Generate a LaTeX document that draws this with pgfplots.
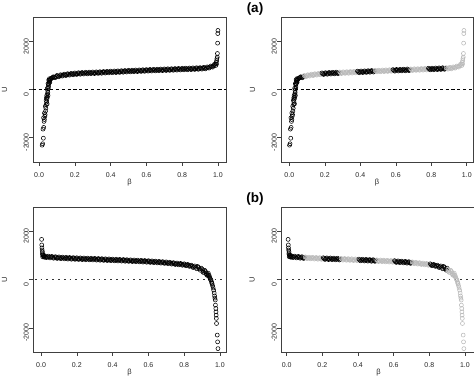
\documentclass[border=0pt]{standalone}
\usepackage{pgfplots}
\usepackage{pgfplotstable}
\usepackage{fontspec}
\setmainfont{Liberation Sans}
\pgfplotsset{compat=1.18}

\pgfplotstableread{
b U c
0.017 -2320 k
0.020 -2260 k
0.024 -2030 k
0.022 -1650 k
0.026 -1580 k
0.028 -1330 k
0.030 -1250 k
0.025 -1180 k
0.032 -1120 k
0.034 -1050 k
0.030 -980 k
0.036 -900 k
0.038 -780 k
0.035 -700 k
0.040 -620 k
0.045 -600 k
0.042 -520 k
0.039 -450 k
0.044 -400 k
0.041 -350 k
0.046 -330 k
0.050 -250 k
0.043 -250 k
0.047 -180 k
0.049 -120 k
0.048 -40 k
0.046 50 k
0.051 30 k
0.053 110 k
0.052 190 k
0.055 240 k
0.050 250 k
0.057 300 k
0.060 300 k
0.056 360 k
0.059 380 k
0.054 400 k
0.062 410 k
0.065 440 k
0.058 450 k
0.068 460 k
0.072 480 k
0.076 500 k
0.08 530 k
0.085 510 k
0.09 490 k
0.095 537 k
0.10 585 g
0.105 557 g
0.11 530 g
0.115 572 g
0.12 615 g
0.125 586 g
0.13 558 g
0.135 599 g
0.14 640 g
0.145 610 g
0.15 580 g
0.155 619 g
0.16 658 g
0.165 627 g
0.17 596 g
0.175 635 g
0.18 674 g
0.185 643 g
0.19 612 g
0.195 651 g
0.20 690 k
0.205 657 k
0.21 625 k
0.215 662 k
0.22 700 k
0.225 667 k
0.23 635 k
0.235 672 k
0.24 710 k
0.245 677 k
0.25 645 k
0.255 681 k
0.26 718 k
0.265 684 k
0.27 651 k
0.275 687 k
0.28 724 k
0.285 690 k
0.29 657 k
0.295 693 k
0.30 730 g
0.305 696 g
0.31 663 g
0.315 699 g
0.32 736 g
0.325 702 g
0.33 669 g
0.335 705 g
0.34 742 g
0.345 708 g
0.35 675 g
0.355 712 g
0.36 749 g
0.365 716 g
0.37 683 g
0.375 720 g
0.38 757 g
0.385 724 g
0.39 691 g
0.395 728 g
0.40 765 k
0.405 731 k
0.41 698 k
0.415 734 k
0.42 771 k
0.425 737 k
0.43 704 k
0.435 740 k
0.44 777 k
0.445 743 k
0.45 710 k
0.455 747 k
0.46 784 k
0.465 751 k
0.47 718 k
0.475 755 k
0.48 792 k
0.485 759 k
0.49 726 k
0.495 763 k
0.50 800 g
0.505 766 g
0.51 733 g
0.515 769 g
0.52 806 g
0.525 772 g
0.53 739 g
0.535 775 g
0.54 812 g
0.545 778 g
0.55 745 g
0.555 781 g
0.56 818 g
0.565 784 g
0.57 751 g
0.575 787 g
0.58 824 g
0.585 790 g
0.59 757 g
0.595 793 g
0.60 830 k
0.605 796 k
0.61 763 k
0.615 799 k
0.62 836 k
0.625 802 k
0.63 769 k
0.635 805 k
0.64 842 k
0.645 808 k
0.65 775 k
0.655 811 k
0.66 847 k
0.665 813 k
0.67 780 k
0.675 816 k
0.68 853 k
0.685 819 k
0.69 785 k
0.695 821 k
0.70 858 g
0.705 824 g
0.71 790 g
0.715 826 g
0.72 863 g
0.725 829 g
0.73 795 g
0.735 831 g
0.74 867 g
0.745 833 g
0.75 800 g
0.755 836 g
0.76 873 g
0.765 839 g
0.77 806 g
0.775 842 g
0.78 879 g
0.785 845 g
0.79 812 g
0.795 848 g
0.80 885 k
0.805 851 k
0.81 817 k
0.815 853 k
0.82 890 k
0.825 856 k
0.83 822 k
0.835 858 k
0.84 895 k
0.845 861 k
0.85 828 k
0.855 864 k
0.86 901 k
0.865 867 k
0.87 834 k
0.875 870 k
0.88 907 k
0.885 873 k
0.89 840 k
0.895 876 k
0.90 912 g
0.905 879 g
0.91 847 g
0.915 885 g
0.92 923 g
0.925 891 g
0.93 860 g
0.935 901 g
0.94 943 g
0.945 916 g
0.95 890 g
0.955 934 g
0.96 978 g
0.965 954 g
0.97 930 g
0.975 985 g
0.98 1045 g
0.985 1060 g
0.988 1000 g
0.990 1120 g
0.992 1060 g
0.993 1200 g
0.994 1280 g
0.996 1350 g
0.997 1500 g
0.998 1930 g
0.999 2330 g
1.000 2460 g
}\dataA

\pgfplotstableread{
b U c
0.003 1660 k
0.004 1430 k
0.005 1310 k
0.006 1220 k
0.008 1140 k
0.007 1060 k
0.010 1020 k
0.012 980 k
0.009 940 k
0.014 1000 k
0.016 950 k
0.018 920 k
0.02 985 k
0.025 945 k
0.03 905 k
0.035 936 k
0.04 968 k
0.045 930 k
0.05 892 k
0.055 924 k
0.06 956 k
0.065 918 k
0.07 880 k
0.075 912 k
0.08 945 k
0.085 907 k
0.09 870 k
0.095 902 k
0.10 935 g
0.105 898 g
0.11 861 g
0.115 894 g
0.12 927 g
0.125 890 g
0.13 853 g
0.135 886 g
0.14 919 g
0.145 882 g
0.15 845 g
0.155 878 g
0.16 912 g
0.165 875 g
0.17 839 g
0.175 872 g
0.18 906 g
0.185 869 g
0.19 833 g
0.195 866 g
0.20 900 k
0.205 864 k
0.21 828 k
0.215 861 k
0.22 895 k
0.225 859 k
0.23 823 k
0.235 856 k
0.24 890 k
0.245 854 k
0.25 818 k
0.255 851 k
0.26 885 k
0.265 849 k
0.27 813 k
0.275 846 k
0.28 880 k
0.285 844 k
0.29 808 k
0.295 841 k
0.30 875 g
0.305 838 g
0.31 802 g
0.315 835 g
0.32 869 g
0.325 832 g
0.33 796 g
0.335 829 g
0.34 863 g
0.345 826 g
0.35 790 g
0.355 823 g
0.36 857 g
0.365 820 g
0.37 784 g
0.375 817 g
0.38 851 g
0.385 814 g
0.39 778 g
0.395 811 g
0.40 845 k
0.405 808 k
0.41 772 k
0.415 805 k
0.42 839 k
0.425 802 k
0.43 766 k
0.435 799 k
0.44 833 k
0.445 796 k
0.45 760 k
0.455 793 k
0.46 827 k
0.465 790 k
0.47 754 k
0.475 787 k
0.48 821 k
0.485 784 k
0.49 748 k
0.495 781 k
0.50 815 g
0.505 778 g
0.51 742 g
0.515 775 g
0.52 808 g
0.525 771 g
0.53 735 g
0.535 768 g
0.54 801 g
0.545 764 g
0.55 728 g
0.555 761 g
0.56 794 g
0.565 757 g
0.57 721 g
0.575 754 g
0.58 787 g
0.585 750 g
0.59 714 g
0.595 747 g
0.60 780 k
0.605 742 k
0.61 705 k
0.615 737 k
0.62 770 k
0.625 732 k
0.63 695 k
0.635 727 k
0.64 760 k
0.645 722 k
0.65 685 k
0.655 717 k
0.66 750 k
0.665 712 k
0.67 675 k
0.675 707 k
0.68 740 k
0.685 702 k
0.69 665 k
0.695 697 k
0.70 730 g
0.705 691 g
0.71 652 g
0.715 683 g
0.72 714 g
0.725 675 g
0.73 636 g
0.735 667 g
0.74 698 g
0.745 659 g
0.75 620 g
0.755 651 g
0.76 682 g
0.765 643 g
0.77 604 g
0.775 635 g
0.78 666 g
0.785 627 g
0.79 588 g
0.795 619 g
0.80 650 k
0.805 609 k
0.81 568 k
0.815 596 k
0.82 625 k
0.825 582 k
0.83 540 k
0.835 566 k
0.84 593 k
0.845 549 k
0.85 495 k
0.855 528 k
0.86 561 k
0.865 503 k
0.87 445 k
0.875 540 k
0.88 507 k
0.885 446 k
0.89 385 k
0.895 470 k
0.90 435 g
0.905 300 g
0.905 365 g
0.91 295 g
0.915 380 g
0.92 325 g
0.925 200 g
0.925 245 g
0.93 165 g
0.935 260 g
0.935 200 g
0.94 165 g
0.942 100 g
0.945 50 g
0.947 0 g
0.950 -20 g
0.953 -100 g
0.955 -150 g
0.956 -180 g
0.959 -260 g
0.962 -350 g
0.965 -440 g
0.968 -560 g
0.970 -680 g
0.972 -770 g
0.974 -850 g
0.975 -1060 g
0.977 -1200 g
0.978 -1340 g
0.979 -1475 g
0.980 -1610 g
0.981 -1820 g
0.985 -2300 g
0.987 -2580 g
0.989 -2860 g
}\dataB

\pgfplotsset{
  rstyle/.style={
    scale only axis, height=145pt, anchor=south west,
    axis line style={black!75, line width=0.6pt},
    tick align=outside, xtick pos=bottom, ytick pos=left,
    major tick length=4pt, tick style={black!75, line width=0.6pt},
    xtick={0,0.2,0.4,0.6,0.8,1}, xticklabels={0.0,0.2,0.4,0.6,0.8,1.0},
    ytick={-2000,0,2000}, yticklabels={-2000,0,2000},
    ticklabel style={font=\fontsize{7}{8}\selectfont, inner sep=0pt, text=black!85},
    yticklabel style={rotate=90, anchor=south, xshift=-4.8pt},
    xticklabel style={anchor=north, yshift=-6.5pt},
    xlabel={β}, ylabel={U},
    label style={font=\fontsize{7.5}{8}\selectfont, inner sep=0pt, text=black!85},
    xlabel style={at={(axis description cs:0.5,0)}, anchor=center, yshift=-21pt},
    ylabel style={at={(axis description cs:-0.1477,0.5)}, anchor=center},
    clip=true,
  },
  kpts/.style={only marks, mark=o, mark size=2pt, black, mark options={line width=0.55pt}},
  cpts/.style={scatter, only marks, mark size=2pt, scatter src=explicit symbolic,
    mark options={line width=0.55pt},
    scatter/classes={k={mark=o, draw=black}, g={mark=o, draw=black!27}}},
}

\begin{document}
\begin{tikzpicture}
\path[use as bounding box] (0,0) rectangle (474pt,379pt);

% top left
\begin{axis}[rstyle, at={(33pt,217pt)}, width=193pt,
  xmin=-0.034, xmax=1.045, ymin=-3020, ymax=3020]
\addplot[black, dash pattern=on 3.2pt off 2.6pt, line width=0.6pt] coordinates {(-0.1,0) (1.1,0)};
\addplot[kpts] table[x=b, y=U] {\dataA};
\end{axis}

% top right
\begin{axis}[rstyle, at={(281pt,217pt)}, width=192pt,
  xmin=-0.047, xmax=1.035, ymin=-3020, ymax=3020]
\addplot[black, dash pattern=on 3.2pt off 2.6pt, line width=0.6pt] coordinates {(-0.1,0) (1.1,0)};
\addplot[cpts] table[x expr=\thisrow{b}-0.016, y=U, meta=c] {\dataA};
\end{axis}

% bottom left
\begin{axis}[rstyle, at={(33pt,27pt)}, width=193pt,
  xmin=-0.045, xmax=1.034, ymin=-3000, ymax=3000]
\addplot[black!80, dash pattern=on 1.8pt off 4pt, line width=0.7pt] coordinates {(-0.1,0) (1.1,0)};
\addplot[kpts] table[x=b, y=U] {\dataB};
\end{axis}

% bottom right
\begin{axis}[rstyle, at={(281pt,27pt)}, width=195pt,
  xmin=-0.032, xmax=1.062, ymin=-3000, ymax=3000]
\addplot[black!80, dash pattern=on 1.8pt off 4pt, line width=0.7pt] coordinates {(-0.1,0) (1.1,0)};
\addplot[cpts] table[x expr=\thisrow{b}+0.005, y=U, meta=c] {\dataB};
\end{axis}

\node[font=\bfseries\fontsize{13.5}{15}\selectfont] at (255pt,370pt) {(a)};
\node[font=\bfseries\fontsize{13.5}{15}\selectfont] at (255pt,180pt) {(b)};
\end{tikzpicture}
\end{document}
